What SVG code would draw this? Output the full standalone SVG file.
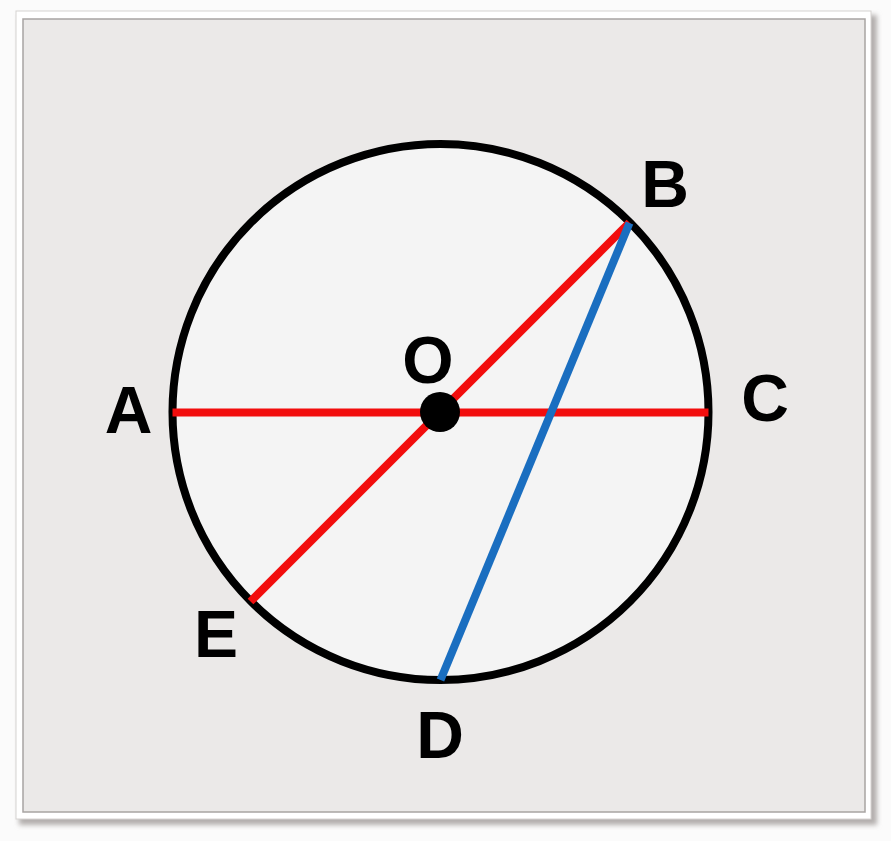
<svg xmlns="http://www.w3.org/2000/svg" width="891" height="841" viewBox="0 0 891 841">
<style>
.lbl{font-family:"Liberation Sans",Arial,sans-serif;font-weight:bold;font-size:66px;fill:#000;text-anchor:middle}
.red{stroke:#f20d0d;stroke-width:8;stroke-linecap:butt}
.blue{stroke:#1a6ec0;stroke-width:8}
</style>
<defs>
<filter id="sh" x="-5%" y="-5%" width="110%" height="110%"><feGaussianBlur stdDeviation="2.5"/></filter>
</defs>
<rect x="0" y="0" width="891" height="841" fill="#fbfbfb"/>
<g id="frame">
<rect x="19" y="15" width="858" height="810" fill="#b3afad" filter="url(#sh)"/>
<rect x="16" y="11" width="855" height="808" fill="#ffffff" stroke="#d6d3d1" stroke-width="1"/>
<rect x="23" y="19" width="842" height="793" fill="#ebe9e8" stroke="#a8a4a2" stroke-width="1.5"/>
</g>
<g id="circle">
<circle cx="440.5" cy="412" r="268" fill="#f4f4f4" stroke="#000" stroke-width="8"/>
</g>
<g id="connectors">
<line class="red" x1="172.5" y1="412.5" x2="708.5" y2="412.5"/>
<line class="red" x1="250.5" y1="601.5" x2="629.5" y2="222.5"/>
<line class="blue" x1="629.5" y1="223" x2="440.5" y2="680"/>
</g>
<g id="center-O">
<circle cx="440" cy="412" r="20" fill="#000"/>
</g>
<g id="labels">
<text class="lbl" x="428" y="383">O</text>
<text class="lbl" x="128.5" y="433">A</text>
<text class="lbl" x="665" y="207">B</text>
<text class="lbl" x="765" y="421">C</text>
<text class="lbl" x="440" y="758">D</text>
<text class="lbl" x="216" y="657">E</text>
</g>
</svg>
